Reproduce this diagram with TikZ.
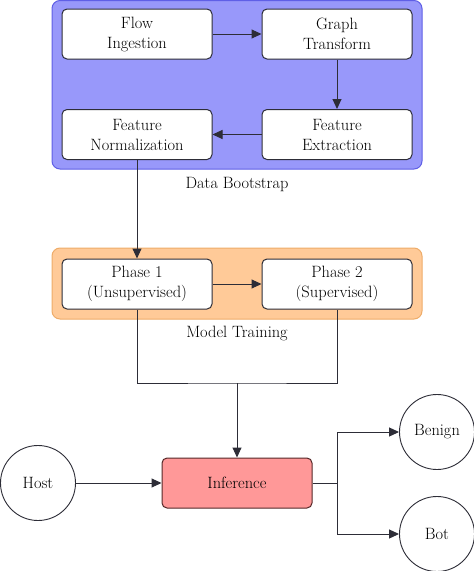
\documentclass[tikz,border=0pt]{standalone}
\usetikzlibrary{arrows.meta,positioning}
\definecolor{bluefill}{RGB}{152,152,250}
\definecolor{blueline}{RGB}{95,95,230}
\definecolor{orangefill}{RGB}{255,202,152}
\definecolor{orangeline}{RGB}{238,172,105}
\definecolor{redfill}{RGB}{255,152,152}
\definecolor{redline}{RGB}{85,40,40}
\definecolor{edge}{RGB}{45,45,55}
\begin{document}
\begin{tikzpicture}[x=1pt,y=-1pt,
  txt/.style={font=\rmfamily\fontsize{16.4}{20}\selectfont},
  stepbox/.style={txt,draw=edge,line width=1pt,fill=white,rounded corners=5pt,
    minimum width=150pt,minimum height=50pt,align=center,inner sep=1pt},
  roundnode/.style={txt,draw=edge,line width=0.9pt,fill=white,circle,
    minimum size=75pt,inner sep=0pt},
  conn/.style={draw=edge,line width=1pt},
  arr/.style={conn,-{Triangle[length=10pt,width=9pt]}},
  group/.style={rounded corners=8pt,line width=1pt}]
\useasboundingbox (0,0) rectangle (474,571);
% groups
\draw[group,fill=bluefill,draw=blueline] (52,0.5) rectangle (422,169);
\draw[group,fill=orangefill,draw=orangeline] (52,248) rectangle (422,319);
% data bootstrap
\node[stepbox] (flow) at (137,34) {Flow\\Ingestion};
\node[stepbox] (graph) at (337,34) {Graph\\Transform};
\node[stepbox] (norm) at (137,134.5) {Feature\\Normalization};
\node[stepbox] (extr) at (337,134.5) {Feature\\Extraction};
\node[txt] (dblabel) at (237,184) {Data Bootstrap};
% model training
\node[stepbox] (p1) at (137,284) {Phase 1\\(Unsupervised)};
\node[stepbox] (p2) at (337,284) {Phase 2\\(Supervised)};
\node[txt] (mtlabel) at (237,333) {Model Training};
% inference
\node[stepbox,fill=redfill,draw=redline] (inf) at (237,483) {Inference};
\node[roundnode] (host) at (38,483) {Host};
\node[roundnode] (benign) at (437,432) {Benign};
\node[roundnode] (bot) at (437,534) {Bot};
\coordinate (join) at (237,383);
\coordinate (branch) at (337,483);
% connectors
\draw[arr] (flow) -- (graph);
\draw[arr] (graph) -- (extr);
\draw[arr] (extr) -- (norm);
\draw[arr] (norm) -- (p1);
\draw[arr] (p1) -- (p2);
\draw[conn] (p1.south) |- (join) -| (p2.south);
\draw[arr] (join) -- (inf);
\draw[arr] (host) -- (inf);
\draw[conn] (inf) -- (branch);
\draw[arr] (branch) |- (benign);
\draw[arr] (branch) |- (bot);
\end{tikzpicture}
\end{document}
